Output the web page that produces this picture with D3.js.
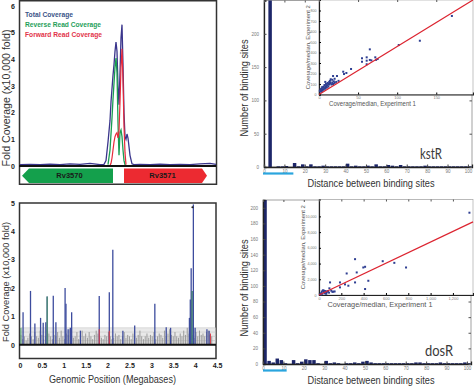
<!DOCTYPE html>
<html>
<head>
<meta charset="utf-8">
<script src="https://cdn.jsdelivr.net/npm/d3@7"></script>
<style>
  body { margin: 0; background: #fff; }
  svg { display: block; }
</style>
</head>
<body>
<div id="fig"></div>
<script>
// ---------- data ----------
// panel A: coverage around the Rv3570/Rv3571 intergenic region (x10,000 fold)
const covPos     = [0,10,20,30,40,50,60,70,80,84,86,88,90,91,92,93,94,95,96,97,98,99,100,101,102,103,104,105,106,107,108,110,112,114,120,130,140,150,160,170,180,190,196];
const covTotal   = [0.05,0.06,0.05,0.07,0.05,0.08,0.06,0.1,0.05,0.06,0.2,0.9,1.7,2.4,2.9,3.4,3.8,4.3,4.65,4.3,3.0,2.3,3.5,4.8,5.3,3.8,2.0,1.1,1.0,1.2,1.05,0.4,0.08,0.05,0.06,0.05,0.07,0.05,0.06,0.05,0.08,0.1,0.06];
const covReverse = [null,null,null,null,null,null,null,null,null,null,null,0.05,0.6,1.2,1.8,2.5,3.1,3.7,4.05,3.5,1.6,0.4,1.25,1.35,1.1,0.6,0.2,0.05,0.02,null,null,null,null,null,null,null,null,null,null,null,null,null,null];
const covForward = [null,null,null,null,null,null,null,null,null,null,null,null,0.02,0.1,0.3,0.6,0.9,1.1,1.2,1.25,1.05,1.3,2.4,3.7,4.4,3.2,1.5,0.5,0.05,null,null,null,null,null,null,null,null,null,null,null,null,null,null];
const geneNames  = ["Rv3570", "Rv3571"];
const geneStart  = [2, 104];
const geneEnd    = [93, 187];
const geneStrand = [-1, 1];

// panel C: genome-wide coverage (Megabases, x10,000 fold)
const bgCoverage = [0.35,0.2,0.3,0.15,0.25,0.4,0.3,0.2,0.45,0.3,
  0.25,0.5,0.35,0.2,0.3,0.55,0.4,0.3,0.2,0.35,
  0.3,0.45,0.25,0.5,0.3,0.2,0.4,0.35,0.55,0.3,
  0.25,0.3,0.45,0.2,0.35,0.5,0.3,0.4,0.25,0.45,
  0.3,0.2,0.35,0.5,0.4,0.3,0.25,0.2,0.35,0.3,
  0.45,0.3,0.2,0.25,0.4,0.3,0.35,0.2,0.3,0.45,
  0.25,0.35,0.3,0.2,0.4,0.3,0.25,0.35,0.5,0.3,
  0.2,0.3,0.4,0.25,0.35,0.3,0.45,0.2,0.3,0.4,
  0.35,0.25,0.5,0.3,0.4,0.55,0.35,0.3,0.45,0.3,
  0.25,0.4,0.3,0.5,0.35,0.6,0.4,0.3,0.35,0.25,
  0.45,0.3,0.5,0.35,0.4,0.3,0.45,0.5,0.35,0.3];
const peakPos = [0.07,0.24,0.34,0.47,0.53,0.59,0.62,0.76,0.82,1.03,1.05,1.1,1.15,1.18,1.38,1.81,2.04,2.12,2.35,2.62,3.08,3.34,3.44,3.87,3.89,3.91,3.93,3.96,4.0,4.27,4.32];
const peakVal = [1.15,1.9,0.75,0.95,0.78,0.8,1.7,1.73,0.8,2.0,1.45,0.55,0.6,1.15,0.5,1.72,1.85,3.35,0.5,0.68,1.45,0.62,0.6,0.95,1.6,2.7,1.9,4.95,0.6,0.55,0.5];
const strandPos  = [0.02,0.62,1.81,2.04,3.93,4.35];
const strandVal  = [0.6,1.7,0.55,0.5,1.9,0.4];
const strandType = ["reverse","reverse","forward","forward","reverse","forward"];
const topPeak = [3.94, 4.85];

// panels B and D: histograms of distances (bins of 2) between binding sites
const binWidth = 2;
const kstRCounts = [0,300,0,1,1,1.5,0,6,1,4,1,4,1,1,2,1,1,1,1,1,5,1,2,1,1,2,1,4,1,1,3,2,1,3,1,1,1,1,1,2,1,1,1,1,1,1,1,1,1,1,1];
const dosRCounts = [260,4,2,7,5,1,0,5,1,3,6,5,5,1,0,4,1,2,1,0,1,1,2,1,3,4,2,1,1,1,1,1,1,1,1,1,1,2,2,1,1,1,1,2,1,1,1,1,1,2,1];
const kstRWindow = [-0.5, 14.4];
const dosRWindow = [0, 11.6];

// insets: coverage/median in experiment 1 vs experiment 2
const kstRx = [170,129,102,65,55,55,61,61,61,65,67,72,73,75,41,31,32,35,23,18,2,3,4,3,5,6,5,7,8,6,8,9,10,10,11,12,13,14,12,15,16,17,18,20,19,22,14,15,17,20,13,11,9,7,4,2,1,3,25,8];
const kstRy = [748,512,471,430,345,312,354,322,288,329,325,354,330,338,243,217,195,205,176,176,30,40,35,55,50,45,65,60,55,75,70,80,65,90,85,100,95,110,75,105,95,115,100,110,125,120,130,145,140,150,120,110,100,90,70,50,35,25,130,120];
const kstRSlope = 4.57;
const dosRx = [1348,323,571,675,780,413,397,338,248,323,442,413,233,263,188,188,99,93,128,10,20,30,40,50,60,45,70,80,35,25,55,15,65,90,110,120,140];
const dosRy = [10470,4560,4300,4090,3500,3590,3500,2870,2740,1600,1810,760,1350,1180,1600,970,1600,850,420,100,250,150,400,300,500,550,350,500,600,450,200,50,150,300,550,400,450];
const dosRSlope = 6.74;

// ---------- drawing ----------
const svg = d3.select("#fig").append("svg")
    .attr("width", 474)
    .attr("height", 387)
    .style("font-family", "'Liberation Sans', Arial, sans-serif");

function addText(g, txt, x, y, o = {}) {
    const t = g.append("text")
        .attr("transform", `translate(${x},${y})` + (o.rotate ? " rotate(-90)" : ""))
        .attr("dy", "0.35em")
        .attr("text-anchor", o.anchor || "middle")
        .attr("font-size", o.size || 10)
        .attr("font-weight", o.bold ? "bold" : null)
        .attr("fill", o.fill || "#333")
        .style("font-family", o.family || null)
        .text(txt);
    if (o.len) t.attr("textLength", o.len).attr("lengthAdjust", "spacingAndGlyphs");
    return t;
}

function styleTicks(ax, size, fill, bold) {
    ax.selectAll("text").attr("font-size", size).attr("fill", fill).attr("font-weight", bold ? "bold" : null);
}

const fmt = d3.format("~g");

// ===== Panel A =====
const gA = svg.append("g");
const xA = d3.scaleLinear().domain([0, 196]).range([20, 216]);
const yA = d3.scaleLinear().domain([0, 6]).range([166, 6]);

gA.append("rect")
    .attr("x", 19.5).attr("y", 0.75).attr("width", 197).attr("height", 183.5)
    .attr("fill", "#fff").attr("stroke", "#333").attr("stroke-width", 1.5);

const axA = gA.append("g").attr("transform", "translate(19,0)")
    .call(d3.axisLeft(yA).tickValues([0, 1, 2, 3, 4, 5, 6]).tickFormat(fmt).tickSize(0).tickPadding(4));
axA.select(".domain").remove();
styleTicks(axA, 7, "#222", true);

// gene arrows
const genes = geneNames.map((n, i) => ({ name: n, start: geneStart[i], end: geneEnd[i], strand: geneStrand[i] }));
const geneColor = d3.scaleOrdinal().domain([-1, 1]).range(["#14a04c", "#ec2a31"]);
const gy0 = 168.5, gy1 = 183;
gA.selectAll("path.gene").data(genes).join("path")
    .attr("class", "gene")
    .attr("fill", d => geneColor(d.strand))
    .attr("d", d => {
        const a = xA(d.start), b = xA(d.end), m = (gy0 + gy1) / 2;
        if (d.strand < 0) {
            return `M${a},${m}L${a + 7},${gy0}L${b},${gy0}L${b},${gy1}L${a + 7},${gy1}Z`;
        }
        return `M${a},${gy0}L${b - 5},${gy0}L${b},${m}L${b - 5},${gy1}L${a},${gy1}Z`;
    });
genes.forEach(d => addText(gA, d.name, (xA(d.start) + xA(d.end)) / 2 + (d.strand < 0 ? 2 : -3), 175.5,
    { size: 7.5, bold: true, fill: "#1a1a1a" }));

// coverage lines
const covRows = covPos.map((p, i) => ({ p, t: covTotal[i], r: covReverse[i], f: covForward[i] }));
const lineFor = key => d3.line().defined(d => d[key] != null).x(d => xA(d.p)).y(d => yA(d[key]));
gA.append("path").datum(covRows).attr("d", lineFor("t"))
    .attr("fill", "none").attr("stroke", "#3a358c").attr("stroke-width", 1.3);
gA.append("path").datum(covRows).attr("d", lineFor("r"))
    .attr("fill", "none").attr("stroke", "#1a9e52").attr("stroke-width", 1.3);
gA.append("path").datum(covRows).attr("d", lineFor("f"))
    .attr("fill", "none").attr("stroke", "#e8283a").attr("stroke-width", 1.2);

gA.append("line").attr("x1", 19).attr("x2", 216).attr("y1", yA(0)).attr("y2", yA(0))
    .attr("stroke", "#111").attr("stroke-width", 2);

// legend
addText(gA, "Total Coverage", 25, 15, { anchor: "start", size: 7, bold: true, fill: "#3b5588", len: 48 });
addText(gA, "Reverse Read Coverage", 25, 25, { anchor: "start", size: 7, bold: true, fill: "#1fa05a", len: 76 });
addText(gA, "Forward Read Coverage", 25, 35, { anchor: "start", size: 7, bold: true, fill: "#e2344a", len: 77 });

addText(gA, "Fold Coverage (x10,000 fold)", 6, 98, { rotate: true, size: 10, fill: "#333", len: 137 });

// ===== Panel C =====
const gC = svg.append("g");
const xC = d3.scaleLinear().domain([0, 4.5]).range([20, 217]);
const yC = d3.scaleLinear().domain([-0.5, 5]).range([359, 203]);

gC.append("rect")
    .attr("x", 19.5).attr("y", 203).attr("width", 196.5).attr("height", 155.5)
    .attr("fill", "#fff").attr("stroke", "#333").attr("stroke-width", 1.5);

gC.append("rect")
    .attr("x", 20.5).attr("width", 195).attr("y", yC(0.6)).attr("height", yC(0) - yC(0.6))
    .attr("fill", "#e9e9e9");
gC.selectAll("line.grid").data([0.15, 0.3, 0.45, 0.6]).join("line")
    .attr("x1", 20.5).attr("x2", 215.5).attr("y1", d => yC(d)).attr("y2", d => yC(d))
    .attr("stroke", "#c4c4c4").attr("stroke-width", 0.6);

const bgRows = bgCoverage.map((v, i) => ({ p: 0.02 + i * 0.04, v }));
gC.selectAll("line.bg").data(bgRows).join("line")
    .attr("x1", d => xC(d.p)).attr("x2", d => xC(d.p))
    .attr("y1", yC(0)).attr("y2", d => yC(d.v))
    .attr("stroke", "#9c9c9c").attr("stroke-width", 1);

const peakRows = peakPos.map((p, i) => ({ p, v: peakVal[i] }));
gC.selectAll("line.peak").data(peakRows).join("line")
    .attr("x1", d => xC(d.p)).attr("x2", d => xC(d.p))
    .attr("y1", yC(0)).attr("y2", d => yC(d.v))
    .attr("stroke", "#3d4c9e").attr("stroke-width", 1.3);

const strandColor = d3.scaleOrdinal().domain(["reverse", "forward"]).range(["#4a9468", "#d8404a"]);
const strandRows = strandPos.map((p, i) => ({ p, v: strandVal[i], t: strandType[i] }));
gC.selectAll("line.strand").data(strandRows).join("line")
    .attr("x1", d => xC(d.p)).attr("x2", d => xC(d.p))
    .attr("y1", yC(0)).attr("y2", d => yC(d.v))
    .attr("stroke", d => strandColor(d.t)).attr("stroke-width", 1.1);

gC.append("circle").attr("cx", xC(topPeak[0])).attr("cy", yC(topPeak[1])).attr("r", 1.1).attr("fill", "#222");

gC.append("line").attr("x1", 19).attr("x2", 216).attr("y1", yC(0)).attr("y2", yC(0))
    .attr("stroke", "#111").attr("stroke-width", 2);

const axCy = gC.append("g").attr("transform", "translate(19,0)")
    .call(d3.axisLeft(yC).tickValues([0, 1, 2, 3, 4, 5]).tickFormat(fmt).tickSize(0).tickPadding(4));
axCy.select(".domain").remove();
styleTicks(axCy, 7, "#222", true);

const axCx = gC.append("g").attr("transform", "translate(0,358)")
    .call(d3.axisBottom(xC).tickValues([0, 0.5, 1, 1.5, 2, 2.5, 3, 3.5, 4, 4.5])
        .tickFormat(fmt).tickSize(0).tickPadding(5));
axCx.select(".domain").remove();
styleTicks(axCx, 7, "#222", true);

addText(gC, "Genomic Position (Megabases)", 112.5, 379, { size: 10, fill: "#333", len: 127 });
addText(gC, "Fold Coverage (x10,000 fold)", 6, 282, { rotate: true, size: 9, fill: "#333", len: 120 });

// ===== Panels B and D =====
function histPanel(o) {
    const g = svg.append("g");
    const x = d3.scaleLinear().domain([0, 102]).range([o.left, o.right]);
    const y = d3.scaleLinear().domain([0, o.ymax]).range([o.bottom, o.top]);

    g.append("rect")
        .attr("x", o.left).attr("y", o.top).attr("width", o.right - o.left).attr("height", o.bottom - o.top)
        .attr("fill", "#fff").attr("stroke", "#8a8a8a").attr("stroke-width", 0.8);

    g.selectAll("rect.bar").data(o.counts).join("rect")
        .attr("class", "bar")
        .attr("x", (d, i) => x(i * binWidth) + 0.3)
        .attr("width", x(binWidth) - x(0) - 0.6)
        .attr("y", d => y(Math.min(d, o.ymax)))
        .attr("height", d => o.bottom - y(Math.min(d, o.ymax)))
        .attr("fill", "#1d2669");

    const axY = g.append("g").attr("transform", `translate(${o.left},0)`)
        .call(d3.axisLeft(y).tickValues(o.yticks).tickSize(-2.5).tickPadding(5));
    axY.select(".domain").attr("stroke", "#222").attr("stroke-width", 1.3);
    axY.selectAll("line").attr("stroke", "#444");
    styleTicks(axY, 4.5, "#777");

    const axX = g.append("g").attr("transform", `translate(0,${o.bottom})`)
        .call(d3.axisBottom(x).tickValues(d3.range(0, 101, 10)).tickSize(-2.5).tickPadding(2.5));
    axX.select(".domain").attr("stroke", "#222").attr("stroke-width", 1.3);
    axX.selectAll("line").attr("stroke", "#444");
    styleTicks(axX, 4.5, "#777");

    const axR = g.append("g").attr("transform", `translate(${o.right},0)`)
        .call(d3.axisRight(y).tickValues(o.yticks).tickSize(-2.5).tickFormat(""));
    axR.select(".domain").remove();
    axR.selectAll("line").attr("stroke", "#555");

    const axT = g.append("g").attr("transform", `translate(0,${o.top})`)
        .call(d3.axisTop(x).tickValues(d3.range(0, 101, 10)).tickSize(-2).tickFormat(""));
    axT.select(".domain").remove();
    axT.selectAll("line").attr("stroke", "#555");

    g.append("line")
        .attr("x1", x(o.window[0])).attr("x2", x(o.window[1]))
        .attr("y1", o.bottom + 6.5).attr("y2", o.bottom + 6.5)
        .attr("stroke", "#2aa5de").attr("stroke-width", 2.2);

    addText(g, "Distance between binding sites", 371, o.bottom + 16.5, { size: 10, fill: "#333", len: 127 });
    addText(g, "Number of binding sites", 244.5, o.ycenter, { rotate: true, size: 10, fill: "#333", len: 97 });
    addText(g, o.name, o.nameX, o.nameY, { size: 15, fill: "#3a3a3a", family: "Lato, 'Liberation Sans', sans-serif", len: o.nameLen });
    return g;
}

function insetPanel(o) {
    const g = svg.append("g");
    const x = d3.scaleLinear().domain([0, o.xmax]).range([319, 473]);
    const y = d3.scaleLinear().domain([0, o.ymax]).range([o.bottom, o.top]);

    g.append("rect")
        .attr("x", 319).attr("y", o.top).attr("width", 154).attr("height", o.bottom - o.top)
        .attr("fill", "#fff").attr("stroke", "#999").attr("stroke-width", 0.6);

    const axX = g.append("g").attr("transform", `translate(0,${o.bottom})`)
        .call(d3.axisBottom(x).tickValues(o.xticks).tickSize(-2).tickPadding(2));
    axX.select(".domain").attr("stroke", "#222").attr("stroke-width", 1.2);
    styleTicks(axX, 4, "#777");

    const axY = g.append("g").attr("transform", "translate(319,0)")
        .call(d3.axisLeft(y).tickValues(o.yticks).tickSize(-2).tickPadding(2.5));
    axY.select(".domain").attr("stroke", "#222").attr("stroke-width", 1.2);
    styleTicks(axY, 3.6, "#777");

    const axT = g.append("g").attr("transform", `translate(0,${o.top})`)
        .call(d3.axisTop(x).tickValues(o.xticks).tickSize(-2).tickFormat(""));
    axT.select(".domain").remove();
    axT.selectAll("line").attr("stroke", "#555");

    const pts = o.xs.map((v, i) => ({ x: v, y: o.ys[i] }));
    g.selectAll("rect.pt").data(pts).join("rect")
        .attr("class", "pt")
        .attr("x", d => x(d.x) - 1).attr("y", d => y(d.y) - 1)
        .attr("width", 2).attr("height", 2)
        .attr("fill", "#2f3f92");

    const xEnd = Math.min(o.xmax, o.ymax / o.slope);
    g.append("line")
        .attr("x1", x(0)).attr("y1", y(0))
        .attr("x2", x(xEnd)).attr("y2", y(o.slope * xEnd))
        .attr("stroke", "#dc2430").attr("stroke-width", 1.2);

    addText(g, "Coverage/median, Experiment 1", o.xtitleX, o.bottom + 9.5, { size: 7, fill: "#555", len: o.xtitleLen });
    addText(g, "Coverage/median, Experiment 2", o.ytitleX, (o.top + o.bottom) / 2, { rotate: true, size: 5.5, fill: "#555", len: 84 });
}

histPanel({
    name: "kstR", counts: kstRCounts, window: kstRWindow,
    left: 264, right: 472, top: 0.5, bottom: 167, ymax: 250,
    yticks: [0, 50, 100, 150, 200], ycenter: 88,
    nameX: 431, nameY: 154, nameLen: 22
});
insetPanel({
    xs: kstRx, ys: kstRy, slope: kstRSlope,
    xmax: 197, ymax: 900, top: 0, bottom: 94.5,
    xticks: [0, 50, 100, 150], yticks: [0, 100, 200, 300, 400, 500, 600, 700, 800],
    xtitleX: 372.5, xtitleLen: 87, ytitleX: 308
});

histPanel({
    name: "dosR", counts: dosRCounts, window: dosRWindow,
    left: 263, right: 471, top: 200, bottom: 364, ymax: 210,
    yticks: d3.range(0, 201, 20), ycenter: 288,
    nameX: 439, nameY: 351, nameLen: 28
});
insetPanel({
    xs: dosRx, ys: dosRy, slope: dosRSlope,
    xmax: 1380, ymax: 12150, top: 199.5, bottom: 295,
    xticks: [0, 200, 400, 600, 800, 1000, 1200], yticks: [0, 2000, 4000, 6000, 8000, 10000],
    xtitleX: 380, xtitleLen: 105, ytitleX: 303.5
});
</script>
</body>
</html>
